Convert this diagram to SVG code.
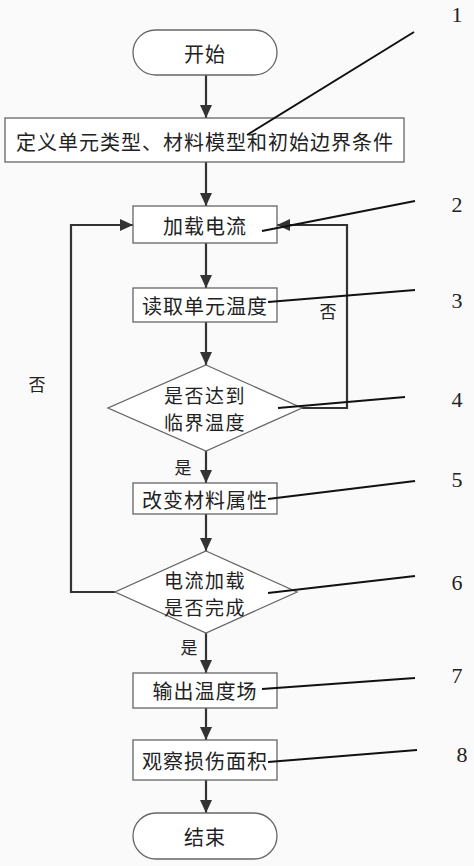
<svg xmlns="http://www.w3.org/2000/svg" width="474" height="866" viewBox="0 0 474 866">
<defs>
<marker id="ah" markerUnits="userSpaceOnUse" markerWidth="14" markerHeight="14" refX="13" refY="6" orient="auto">
<path d="M0,0 L13,6 L0,12 Z" fill="#333"/>
</marker>
<style>
.box{fill:#fff;stroke:#666;stroke-width:1.3}
.t{font-family:"Noto Sans CJK SC","Noto Sans",sans-serif;font-size:20px;fill:#222;text-anchor:middle;dominant-baseline:central;letter-spacing:1px}
.d{font-family:"Noto Sans CJK SC","Noto Sans",sans-serif;font-size:19px;fill:#222;text-anchor:middle;dominant-baseline:central;letter-spacing:1.5px}
.s{font-family:"Noto Sans CJK SC","Noto Sans",sans-serif;font-size:17px;fill:#222;text-anchor:middle;dominant-baseline:central}
.c{fill:none;stroke:#333;stroke-width:2.2}
.ca{fill:none;stroke:#333;stroke-width:2.2;marker-end:url(#ah)}
.ld{stroke:#111;stroke-width:2}
.n{font-family:"Liberation Serif",serif;font-size:22px;fill:#222;text-anchor:middle}
</style>
</defs>
<rect width="474" height="866" fill="#fafafa"/>
<g id="connectors">
<line class="ca" x1="206" y1="75" x2="206" y2="118"/>
<line class="ca" x1="206" y1="162" x2="206" y2="206"/>
<line class="ca" x1="206" y1="243" x2="206" y2="288"/>
<line class="ca" x1="206" y1="322" x2="206" y2="365"/>
<line class="ca" x1="206" y1="451" x2="206" y2="483"/>
<line class="ca" x1="206" y1="514" x2="206" y2="551"/>
<line class="ca" x1="206" y1="633" x2="206" y2="673"/>
<line class="ca" x1="206" y1="708" x2="206" y2="740"/>
<line class="ca" x1="206" y1="780" x2="206" y2="813"/>
<polyline class="ca" points="302,408 347,408 347,225 277,225"/>
<polyline class="ca" points="115,592 71,592 71,225 133,225"/>
<text class="s" x="328" y="310">否</text>
<text class="s" x="37" y="383">否</text>
<text class="s" x="183" y="466">是</text>
<text class="s" x="189" y="646">是</text>
</g>
<g id="start"><rect class="box" x="133" y="30" width="144" height="45" rx="22.5"/><text class="t" x="205" y="53">开始</text></g>
<g id="define"><rect class="box" x="5" y="118" width="399" height="44"/><text class="t" x="205" y="141">定义单元类型、材料模型和初始边界条件</text></g>
<g id="load"><rect class="box" x="133" y="206" width="144" height="37"/><text class="t" x="205" y="225">加载电流</text></g>
<g id="read"><rect class="box" x="133" y="288" width="144" height="34"/><text class="t" x="205" y="305">读取单元温度</text></g>
<g id="check1"><polygon class="box" points="206,365 302,408 206,451 108,408"/><text class="d" x="205" y="394">是否达到</text><text class="d" x="205" y="421">临界温度</text></g>
<g id="change"><rect class="box" x="133" y="483" width="144" height="31"/><text class="t" x="205" y="499">改变材料属性</text></g>
<g id="check2"><polygon class="box" points="206,551 297,592 206,633 115,592"/><text class="d" x="205" y="579">电流加载</text><text class="d" x="205" y="606">是否完成</text></g>
<g id="output"><rect class="box" x="133" y="673" width="144" height="35"/><text class="t" x="205" y="690">输出温度场</text></g>
<g id="observe"><rect class="box" x="133" y="740" width="144" height="40"/><text class="t" x="205" y="760">观察损伤面积</text></g>
<g id="end"><rect class="box" x="133" y="813" width="144" height="46" rx="23"/><text class="t" x="205" y="836">结束</text></g>
<g id="leaders">
<line class="ld" x1="414" y1="32" x2="247" y2="135"/>
<line class="ld" x1="415" y1="201" x2="262" y2="231"/>
<line class="ld" x1="415" y1="290" x2="268" y2="302"/>
<line class="ld" x1="405" y1="397" x2="278" y2="408"/>
<line class="ld" x1="415" y1="481" x2="268" y2="499"/>
<line class="ld" x1="415" y1="576" x2="268" y2="593"/>
<line class="ld" x1="415" y1="678" x2="262" y2="689"/>
<line class="ld" x1="417" y1="750" x2="268" y2="762"/>
<text class="n" x="457" y="22">1</text>
<text class="n" x="457" y="212">2</text>
<text class="n" x="457" y="308">3</text>
<text class="n" x="457" y="407">4</text>
<text class="n" x="457" y="487">5</text>
<text class="n" x="457" y="590">6</text>
<text class="n" x="457" y="683">7</text>
<text class="n" x="462" y="762">8</text>
</g>
</svg>
